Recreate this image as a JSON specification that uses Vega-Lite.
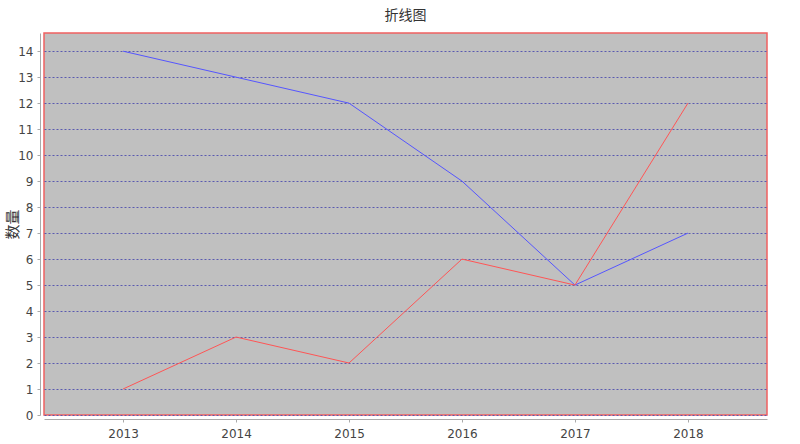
{
  "$schema": "https://vega.github.io/schema/vega-lite/v6.json",
  "autosize": {"type": "none"},
  "padding": {"left": 44, "top": 33, "right": 33, "bottom": 29},
  "width": 723,
  "height": 382,
  "background": "white",
  "title": {
    "text": "折线图",
    "font": "Noto Sans CJK SC",
    "fontSize": 14,
    "fontWeight": "normal",
    "color": "#333333",
    "anchor": "middle",
    "offset": 10
  },
  "config": {
    "view": {"fill": "#c0c0c0", "stroke": "#f06060", "strokeWidth": 1.5},
    "axis": {
      "labelFont": "DejaVu Sans",
      "labelFontSize": 12,
      "labelColor": "#444444",
      "domainColor": "#aaaaaa",
      "tickColor": "#aaaaaa",
      "tickSize": 3,
      "labelPadding": 4
    }
  },
  "data": {
    "values": [
      {"year": "2013", "series": "B", "value": 14},
      {"year": "2014", "series": "B", "value": 13},
      {"year": "2015", "series": "B", "value": 12},
      {"year": "2016", "series": "B", "value": 9},
      {"year": "2017", "series": "B", "value": 5},
      {"year": "2018", "series": "B", "value": 7},
      {"year": "2013", "series": "A", "value": 1},
      {"year": "2014", "series": "A", "value": 3},
      {"year": "2015", "series": "A", "value": 2},
      {"year": "2016", "series": "A", "value": 6},
      {"year": "2017", "series": "A", "value": 5},
      {"year": "2018", "series": "A", "value": 12}
    ]
  },
  "mark": {"type": "line", "strokeWidth": 1, "clip": true},
  "encoding": {
    "x": {
      "field": "year",
      "type": "ordinal",
      "scale": {"type": "point", "padding": 0.7},
      "axis": {"title": null, "labelAngle": 0, "offset": 4, "labelPadding": 6, "grid": false}
    },
    "y": {
      "field": "value",
      "type": "quantitative",
      "scale": {"domain": [0, 14.7], "nice": false},
      "axis": {
        "title": "数量",
        "titleFont": "Noto Sans CJK SC",
        "titleFontSize": 15,
        "titleFontWeight": "normal",
        "titleColor": "#333333",
        "titleX": -28,
        "titleBaseline": "middle",
        "values": [0, 1, 2, 3, 4, 5, 6, 7, 8, 9, 10, 11, 12, 13, 14],
        "offset": 4,
        "grid": true,
        "gridColor": "#5a5ab0",
        "gridDash": [2, 2],
        "gridWidth": 1
      }
    },
    "color": {
      "field": "series",
      "type": "nominal",
      "scale": {"domain": ["A", "B"], "range": ["#ff5555", "#5555ff"]},
      "legend": null
    }
  }
}
